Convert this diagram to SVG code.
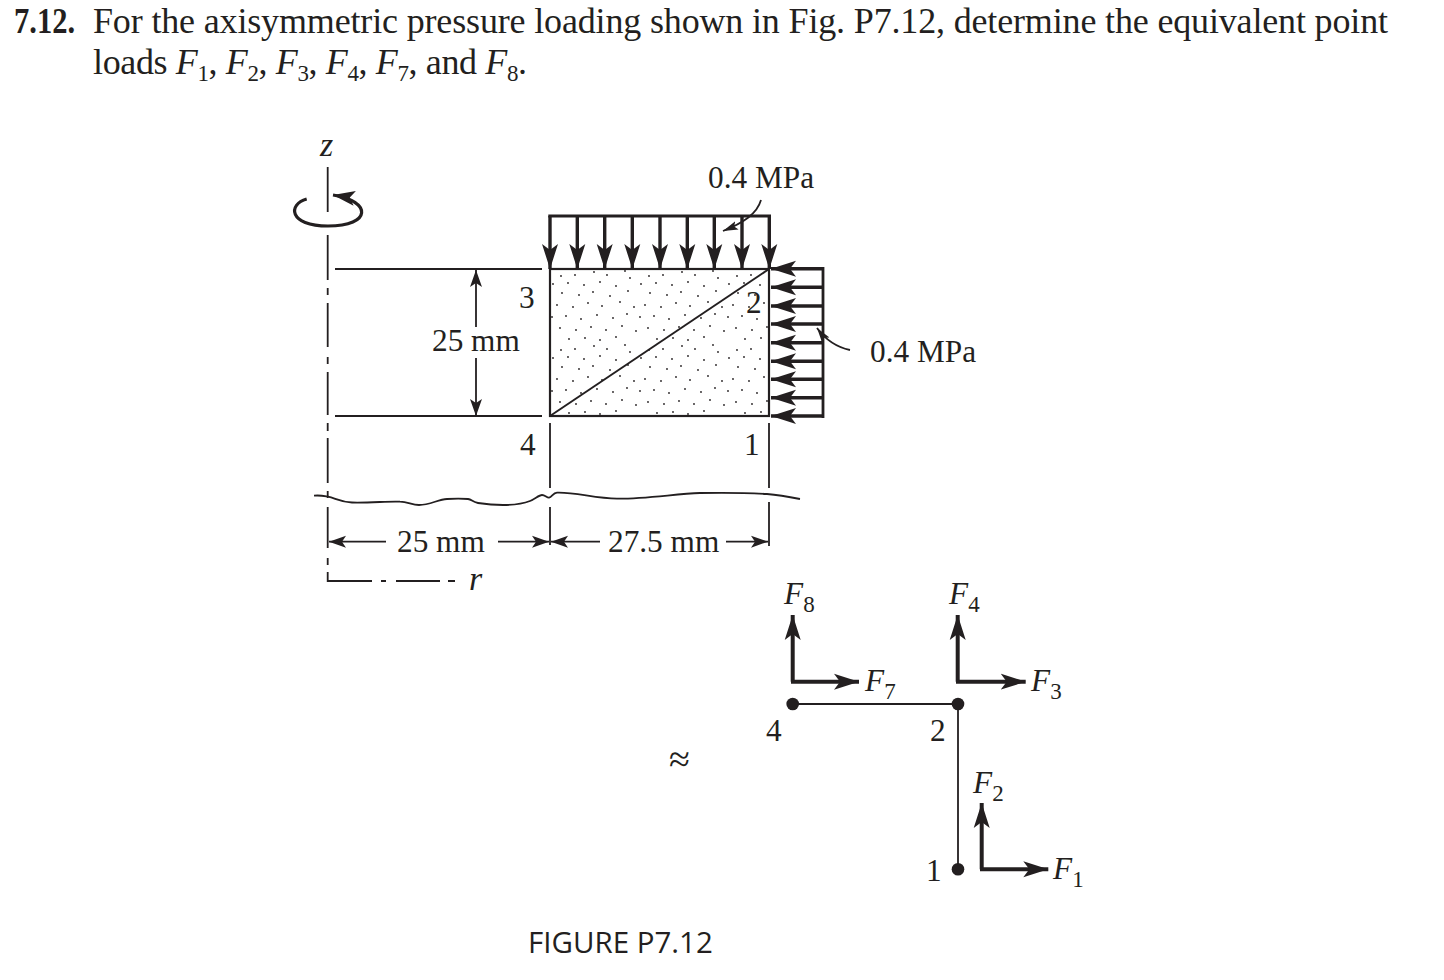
<svg xmlns="http://www.w3.org/2000/svg" width="1444" height="980" viewBox="0 0 1444 980">
<style>
text{font-family:"Liberation Serif","Times New Roman",serif;fill:#231f20}
.h{font-size:36px}
.l{font-size:31.300px}
.i{font-style:italic}
.s{font-size:23px}
.t{fill:none;stroke:#231f20;stroke-width:1.800}
.b{fill:none;stroke:#231f20;stroke-width:3.400}
.f{fill:none;stroke:#231f20;stroke-width:4}
.n{fill:#231f20}
</style>
<defs>
<marker id="big" markerUnits="userSpaceOnUse" markerWidth="28" markerHeight="20" refX="25" refY="9" orient="auto"><path d="M0,1L25,9L0,17L6,9Z" fill="#231f20"/></marker>
<marker id="ring" markerUnits="userSpaceOnUse" markerWidth="26" markerHeight="20" refX="22" refY="8" orient="auto"><path d="M0,.5L22,8L0,15.500L5,8Z" fill="#231f20"/></marker>
<marker id="thin" markerUnits="userSpaceOnUse" markerWidth="20" markerHeight="14" refX="17" refY="6.500" orient="auto"><path d="M0,.5L17,6.500L0,12.500L4,6.500Z" fill="#231f20"/></marker>
<marker id="lead" markerUnits="userSpaceOnUse" markerWidth="18" markerHeight="14" refX="15" refY="5" orient="auto"><path d="M0,.5L15,5L0,9.500L3,5Z" fill="#231f20"/></marker>
<pattern id="dots" patternUnits="userSpaceOnUse" x="550" y="269" width="88" height="74">
<g fill="#231f20"><circle cx="11" cy="7" r=".9"/><circle cx="25" cy="6" r=".9"/><circle cx="44" cy="3" r=".9"/><circle cx="57" cy="6" r=".9"/><circle cx="75" cy="2" r=".9"/><circle cx="80" cy="9" r=".9"/><circle cx="3" cy="15" r=".9"/><circle cx="18" cy="14" r=".9"/><circle cx="34" cy="16" r=".9"/><circle cx="50" cy="13" r=".9"/><circle cx="66" cy="17" r=".9"/><circle cx="12" cy="24" r=".9"/><circle cx="29" cy="26" r=".9"/><circle cx="43" cy="23" r=".9"/><circle cx="60" cy="27" r=".9"/><circle cx="78" cy="22" r=".9"/><circle cx="7" cy="36" r=".9"/><circle cx="23" cy="38" r=".9"/><circle cx="38" cy="34" r=".9"/><circle cx="52" cy="37" r=".9"/><circle cx="70" cy="33" r=".9"/><circle cx="84" cy="38" r=".9"/><circle cx="2" cy="48" r=".9"/><circle cx="16" cy="47" r=".9"/><circle cx="31" cy="50" r=".9"/><circle cx="47" cy="46" r=".9"/><circle cx="63" cy="49" r=".9"/><circle cx="77" cy="45" r=".9"/><circle cx="10" cy="59" r=".9"/><circle cx="26" cy="61" r=".9"/><circle cx="41" cy="58" r=".9"/><circle cx="56" cy="61" r=".9"/><circle cx="72" cy="57" r=".9"/><circle cx="86" cy="62" r=".9"/><circle cx="19" cy="70" r=".9"/><circle cx="35" cy="69" r=".9"/><circle cx="50" cy="71" r=".9"/><circle cx="66" cy="68" r=".9"/></g>
</pattern>
</defs>

<rect width="1444" height="980" fill="#fff"/>

<g id="statement">
<text class="h" x="14" y="33" font-weight="bold" textLength="61" lengthAdjust="spacingAndGlyphs">7.12.</text>
<text class="h" x="93" y="33" textLength="1295" lengthAdjust="spacing">For the axisymmetric pressure loading shown in Fig. P7.12, determine the equivalent point</text>
<text class="h" x="93" y="74" textLength="434" lengthAdjust="spacing">loads <tspan class="i">F</tspan><tspan font-size="23" dy="7">1</tspan><tspan dy="-7">, </tspan><tspan class="i">F</tspan><tspan font-size="23" dy="7">2</tspan><tspan dy="-7">, </tspan><tspan class="i">F</tspan><tspan font-size="23" dy="7">3</tspan><tspan dy="-7">, </tspan><tspan class="i">F</tspan><tspan font-size="23" dy="7">4</tspan><tspan dy="-7">, </tspan><tspan class="i">F</tspan><tspan font-size="23" dy="7">7</tspan><tspan dy="-7">, and </tspan><tspan class="i">F</tspan><tspan font-size="23" dy="7">8</tspan><tspan dy="-7">.</tspan></text>
</g>

<g id="axis">
<text class="l i" x="320" y="156" style="font-size:34px">z</text>
<path class="t" d="M327.700,167V212M327.700,235V280M327.700,288V295M327.700,303V347M327.700,357V364M327.700,372V415M327.700,423V431M327.700,438V483M327.700,491V498M327.700,507V548M327.700,558V565M327.700,572V581H372M381,581H386M396,581H440M448,581H455"/>
<path d="M306.700,199C288,204 288,226 328,226C372,226 372,201 333,195" fill="none" stroke="#231f20" stroke-width="3.200" marker-end="url(#ring)"/>
<text class="l i" x="469" y="590" style="font-size:34px">r</text>
</g>

<g id="section">
<rect x="550" y="269" width="219" height="147" fill="url(#dots)"/>
<rect x="550" y="269" width="219" height="147" fill="none" stroke="#231f20" stroke-width="2.200"/>
<path d="M550,416L769,269" fill="none" stroke="#231f20" stroke-width="2"/>
<text class="l" x="519" y="308">3</text>
<text class="l" x="746" y="313">2</text>
<text class="l" x="744" y="455">1</text>
<text class="l" x="520" y="455">4</text>
</g>

<g id="connectors">
<g id="top-load">
<path class="t" style="stroke-width:2.800" d="M548.300,216H771"/>
<path class="b" marker-end="url(#big)" d="M550,216V269"/>
<path class="b" marker-end="url(#big)" d="M577.300,216V269"/>
<path class="b" marker-end="url(#big)" d="M604.700,216V269"/>
<path class="b" marker-end="url(#big)" d="M632.300,216V269"/>
<path class="b" marker-end="url(#big)" d="M660,216V269"/>
<path class="b" marker-end="url(#big)" d="M687.300,216V269"/>
<path class="b" marker-end="url(#big)" d="M714.300,216V269"/>
<path class="b" marker-end="url(#big)" d="M742,216V269"/>
<path class="b" marker-end="url(#big)" d="M769.300,216V269"/>
</g>
<g id="right-load">
<path class="t" style="stroke-width:2.800" d="M823,267V418"/>
<path class="b" marker-end="url(#big)" d="M823,268.700H771"/>
<path class="b" marker-end="url(#big)" d="M823,287.300H771"/>
<path class="b" marker-end="url(#big)" d="M823,306H771"/>
<path class="b" marker-end="url(#big)" d="M823,324H771"/>
<path class="b" marker-end="url(#big)" d="M823,342.700H771"/>
<path class="b" marker-end="url(#big)" d="M823,361.300H771"/>
<path class="b" marker-end="url(#big)" d="M823,379.300H771"/>
<path class="b" marker-end="url(#big)" d="M823,397.700H771"/>
<path class="b" marker-end="url(#big)" d="M823,416H771"/>
</g>
<path class="t" marker-end="url(#lead)" d="M761,200C757,214 743,223 723,231"/>
<path class="t" marker-end="url(#lead)" d="M850,350C836,347 825,339 817,328"/>
<path class="t" d="M335,269H542M335,416H542M550,423V488M550,507V545M769,423V488M769,502V546"/>
<path class="t" marker-end="url(#thin)" d="M476,327V270"/>
<path class="t" marker-end="url(#thin)" d="M476,358V416"/>
<path class="t" marker-end="url(#thin)" d="M386,541.700H329"/>
<path class="t" marker-end="url(#thin)" d="M498,541.700H549"/>
<path class="t" marker-end="url(#thin)" d="M600,541.700H551"/>
<path class="t" marker-end="url(#thin)" d="M726,541.700H768"/>
<path class="t" d="M314,495.700C320,495 324,496 328,496.700C335,498 340,502 352,502.500C370,503 390,501 400,501.700C408,502 412,505 419,505C430,505 438,499.500 447,499C455,498.500 462,498.500 468,499C472,499.500 472,502 478,503C488,504.500 495,505 503,505C515,505 525,503 530,501C535,499 539,495 542,495C545,495 547,498 549,497.700C552,497 553,493 557,492.700C575,492 595,498.500 617,498.700C645,499 675,494 700,493C725,492.500 750,493 767,494C780,495 790,497 800,499"/>
</g>

<g id="labels">
<text class="l" x="708" y="188">0.4 MPa</text>
<text class="l" x="870" y="362">0.4 MPa</text>
<text class="l" x="432" y="351">25 mm</text>
<text class="l" x="397" y="552">25 mm</text>
<text class="l" x="608" y="552">27.5 mm</text>
<text class="l" x="669" y="772" style="font-size:38px">≈</text>
<text x="528" y="953" style="font-family:'Open Sans','Liberation Sans',sans-serif;font-size:29.500px">FIGURE P7.12</text>
</g>

<g id="element">
<path class="t" d="M792.700,704H958V869"/>
<circle id="node-4" class="n" cx="792.700" cy="704" r="6.300"/>
<circle id="node-2" class="n" cx="958" cy="704" r="6.300"/>
<circle id="node-1" class="n" cx="958" cy="869.300" r="6.300"/>
<text class="l" x="766" y="741">4</text>
<text class="l" x="930" y="741">2</text>
<text class="l" x="926" y="881">1</text>
</g>

<g id="forces">
<path class="f" marker-end="url(#big)" d="M792.700,681.700V615"/>
<path class="f" marker-end="url(#big)" d="M791,681.700H859"/>
<path class="f" marker-end="url(#big)" d="M957.700,681.700V615"/>
<path class="f" marker-end="url(#big)" d="M956,681.700H1025.700"/>
<path class="f" marker-end="url(#big)" d="M981.700,869.300V803"/>
<path class="f" marker-end="url(#big)" d="M980,869.300H1048.300"/>
<text class="l i" x="784" y="604">F<tspan class="s" style="font-style:normal" dy="8">8</tspan></text>
<text class="l i" x="949" y="604">F<tspan class="s" style="font-style:normal" dy="8">4</tspan></text>
<text class="l i" x="865" y="691">F<tspan class="s" style="font-style:normal" dy="8">7</tspan></text>
<text class="l i" x="1031" y="691">F<tspan class="s" style="font-style:normal" dy="8">3</tspan></text>
<text class="l i" x="973" y="793">F<tspan class="s" style="font-style:normal" dy="8">2</tspan></text>
<text class="l i" x="1053" y="879">F<tspan class="s" style="font-style:normal" dy="8">1</tspan></text>
</g>
</svg>
